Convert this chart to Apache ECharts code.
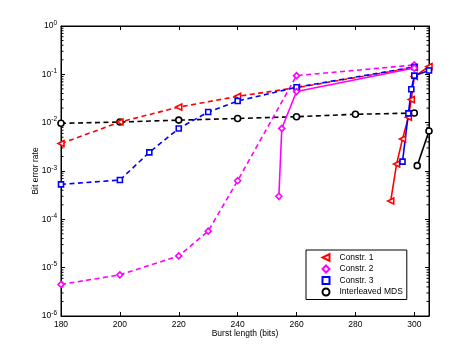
<!DOCTYPE html>
<html>
<head>
<meta charset="utf-8">
<script src="https://cdn.jsdelivr.net/npm/echarts@6/dist/echarts.min.js"></script>
<style>html,body{margin:0;padding:0;background:#fff;}#c{width:474px;height:355px;}</style>
</head>
<body>
<div id="c"></div>
<script>
// ---- data ----
const xTicks = [180, 200, 220, 240, 260, 280, 300];
const yTickExps = [0, -1, -2, -3, -4, -5, -6];

const c1DashX = [180, 200, 220, 240, 260, 300];
const c1DashY = [3.7e-3, 1.03e-2, 2.1e-2, 3.5e-2, 5.3e-2, 0.138];
const c1SolidX = [292, 294, 296, 298, 299, 300, 305];
const c1SolidY = [2.4e-4, 1.4e-3, 4.6e-3, 1.3e-2, 3.0e-2, 0.09, 0.145];

const c2DashX = [180, 200, 220, 230, 240, 260, 300];
const c2DashY = [4.5e-6, 7.1e-6, 1.75e-5, 5.7e-5, 6.3e-4, 0.094, 0.156];
const c2SolidX = [254, 255, 260, 300];
const c2SolidY = [3.0e-4, 7.6e-3, 0.044, 0.135];

const c3DashX = [180, 200, 210, 220, 230, 240, 260, 300];
const c3DashY = [5.3e-4, 6.5e-4, 2.43e-3, 7.6e-3, 1.66e-2, 2.8e-2, 5.4e-2, 0.142];
const c3SolidX = [296, 298, 299, 300, 305];
const c3SolidY = [1.56e-3, 1.56e-2, 0.049, 0.094, 0.12];

const mdsDashX = [180, 200, 220, 240, 260, 280, 300];
const mdsDashY = [9.7e-3, 1.03e-2, 1.13e-2, 1.22e-2, 1.33e-2, 1.49e-2, 1.58e-2];
const mdsSolidX = [301, 305];
const mdsSolidY = [1.29e-3, 6.7e-3];

const names = ['Constr. 1', 'Constr. 2', 'Constr. 3', 'Interleaved MDS'];
// ---------------

const pairs = (xs, ys) => xs.map((x, i) => [x, ys[i]]);
const FONT = '"Liberation Sans", Arial, Helvetica, sans-serif';
const leftTri = 'path://M10,0 L10,10 L0,5 Z';

function mk(name, xs, ys, color, symbol, dashed, size) {
  return {
    name: name, type: 'line', data: pairs(xs, ys),
    symbol: symbol, symbolSize: size,
    lineStyle: { color: color, width: 1.6, type: dashed ? [5, 3.5] : 'solid' },
    itemStyle: { color: '#fff', borderColor: color, borderWidth: 1.6 },
    emphasis: { disabled: true }, animation: false, z: dashed ? 3 : 4
  };
}

// minor ticks for log axis (axis decoration)
const minor = [];
for (let e = -6; e < 0; e++) for (let k = 2; k <= 9; k++) minor.push([180, k * Math.pow(10, e)]);

const chart = echarts.init(document.getElementById('c'), null, { renderer: 'canvas' });
chart.setOption({
  backgroundColor: '#fff',
  animation: false,
  textStyle: { fontFamily: FONT },
  grid: { left: 61, right: 45, top: 26, bottom: 39, show: true, borderColor: '#000', borderWidth: 1, backgroundColor: 'transparent' },
  xAxis: [{
    type: 'value', min: 180, max: 305, interval: 20,
    name: 'Burst length (bits)', nameLocation: 'middle', nameGap: 13, nameMoveOverlap: false,
    nameTextStyle: { color: '#000', fontSize: 8.5, fontFamily: FONT, verticalAlign: 'top' },
    axisLine: { show: true, lineStyle: { color: '#000', width: 1 } },
    axisTick: { show: true, inside: true, length: 4, lineStyle: { color: '#000' } },
    axisLabel: { color: '#000', fontSize: 8.5, margin: 4, fontFamily: FONT, showMaxLabel: false,
      formatter: v => (xTicks.indexOf(v) >= 0 ? String(v) : '') },
    splitLine: { show: false }
  }, {
    type: 'value', min: 180, max: 305, interval: 20, position: 'top',
    axisLine: { show: true, lineStyle: { color: '#000', width: 1 } },
    axisTick: { show: true, inside: true, length: 4, lineStyle: { color: '#000' } },
    axisLabel: { show: false }, splitLine: { show: false }
  }],
  yAxis: [{
    type: 'log', logBase: 10, min: 1e-6, max: 1,
    name: 'Bit error rate', nameLocation: 'middle', nameGap: 21, nameRotate: 90, nameMoveOverlap: false,
    nameTextStyle: { color: '#000', fontSize: 8.5, fontFamily: FONT },
    axisLine: { show: true, lineStyle: { color: '#000', width: 1 } },
    axisTick: { show: true, inside: true, length: 4, lineStyle: { color: '#000' } },
    axisLabel: { color: '#000', fontSize: 8.5, margin: 4, fontFamily: FONT,
      formatter: v => {
        const e = Math.round(Math.log10(v));
        return yTickExps.indexOf(e) >= 0 ? '10{s|' + e + '}' : '';
      },
      rich: { s: { fontSize: 6.5, verticalAlign: 'top', padding: [0, 0, 6, 0], fontFamily: FONT, color: '#000' } }
    },
    splitLine: { show: false }
  }, {
    type: 'log', logBase: 10, min: 1e-6, max: 1, position: 'right',
    axisLine: { show: true, lineStyle: { color: '#000', width: 1 } },
    axisTick: { show: true, inside: true, length: 4, lineStyle: { color: '#000' } },
    axisLabel: { show: false }, splitLine: { show: false }
  }],
  legend: {
    left: 306, top: 250, orient: 'vertical',
    backgroundColor: '#fff', borderColor: '#000', borderWidth: 1, borderRadius: 0,
    padding: [2.5, 4, 2.5, 15.5], itemGap: 1.5, itemWidth: 7, itemHeight: 7,
    textStyle: { color: '#000', fontSize: 8.5, lineHeight: 10, fontFamily: FONT, padding: [0, 0, 0, 5] },
    data: [
      { name: names[0], icon: leftTri, itemStyle: { color: '#fff', borderColor: '#ff0000', borderWidth: 2 } },
      { name: names[1], icon: 'diamond', itemStyle: { color: '#fff', borderColor: '#ff00ff', borderWidth: 2 } },
      { name: names[2], icon: 'rect', itemStyle: { color: '#fff', borderColor: '#0000ff', borderWidth: 2 } },
      { name: names[3], icon: 'circle', itemStyle: { color: '#fff', borderColor: '#000000', borderWidth: 2 } }
    ],
    selectedMode: false
  },
  series: [
    mk(names[3], mdsDashX, mdsDashY, '#000000', 'circle', true, 6),
    mk(names[3], mdsSolidX, mdsSolidY, '#000000', 'circle', false, 6),
    mk(names[1], c2DashX, c2DashY, '#ff00ff', 'diamond', true, 6),
    mk(names[1], c2SolidX, c2SolidY, '#ff00ff', 'diamond', false, 6),
    mk(names[0], c1DashX, c1DashY, '#ff0000', leftTri, true, 6),
    mk(names[0], c1SolidX, c1SolidY, '#ff0000', leftTri, false, 6),
    mk(names[2], c3DashX, c3DashY, '#0000ff', 'rect', true, 5),
    mk(names[2], c3SolidX, c3SolidY, '#0000ff', 'rect', false, 5),
    {
      type: 'custom', silent: true, data: minor, z: 1,
      renderItem: (params, api) => {
        const l = api.coord([180, api.value(1)]);
        const r = api.coord([305, api.value(1)]);
        return { type: 'group', children: [
          { type: 'line', shape: { x1: l[0], y1: l[1], x2: l[0] + 2.5, y2: l[1] }, style: { stroke: '#000', lineWidth: 1 } },
          { type: 'line', shape: { x1: r[0], y1: r[1], x2: r[0] - 2.5, y2: r[1] }, style: { stroke: '#000', lineWidth: 1 } }
        ] };
      }
    }
  ]
});
</script>
</body>
</html>
